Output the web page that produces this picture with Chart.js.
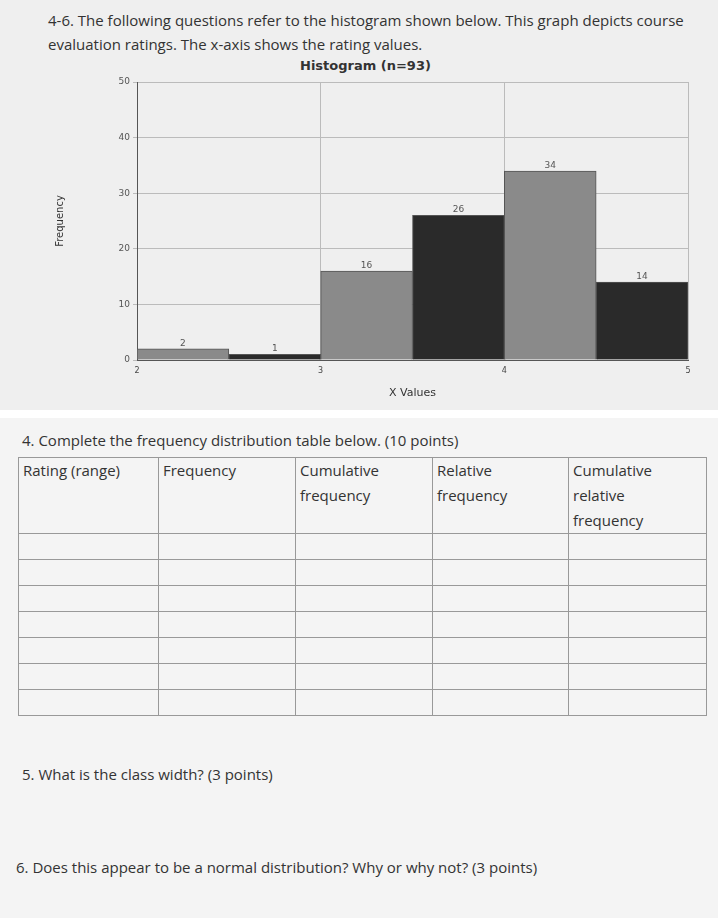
<!DOCTYPE html>
<html>
<head>
<meta charset="utf-8">
<script src="https://cdn.jsdelivr.net/npm/chart.js@4"></script>
<style>
  body { margin: 0; width: 718px; height: 918px; background: #ffffff; font-family: "Open Sans", sans-serif; color: #333; position: relative; overflow: hidden; }
  .top { position: absolute; left: 0; top: 0; width: 718px; height: 410px; background: #efefef; }
  .bottom { position: absolute; left: 0; top: 418px; width: 718px; height: 500px; background: #f4f4f4; }
  .txt { position: absolute; font-size: 15px; line-height: 24px; }
  #wrap { position: absolute; left: 50px; top: 55px; width: 660px; height: 345px; }
  .ctitle { position: absolute; left: 300px; top: 58px; font: bold 13px "DejaVu Sans", sans-serif; color: #333; }
  table { position: absolute; left: 18px; top: 457px; border-collapse: collapse; font-size: 15px; }
  td { border: 1px solid #999; vertical-align: top; padding: 0 4px; height: 25px; line-height: 25px; }
  tr.h td { height: 72px; }
</style>
</head>
<body>
<div class="top"></div>
<div class="bottom"></div>
<div class="txt" style="left:48px;top:8px;">4-6. The following questions refer to the histogram shown below. This graph depicts course<br>evaluation ratings. The x-axis shows the rating values.</div>
<div class="ctitle">Histogram (n=93)</div>
<div id="wrap"><canvas id="chart"></canvas></div>
<div class="txt" style="left:22px;top:428px;">4. Complete the frequency distribution table below. (10 points)</div>
<table>
  <tr class="h"><td style="width:131px">Rating (range)</td><td style="width:128px">Frequency</td><td style="width:128px">Cumulative<br>frequency</td><td style="width:127px">Relative<br>frequency</td><td style="width:129px">Cumulative<br>relative<br>frequency</td></tr>
  <tr><td></td><td></td><td></td><td></td><td></td></tr>
  <tr><td></td><td></td><td></td><td></td><td></td></tr>
  <tr><td></td><td></td><td></td><td></td><td></td></tr>
  <tr><td></td><td></td><td></td><td></td><td></td></tr>
  <tr><td></td><td></td><td></td><td></td><td></td></tr>
  <tr><td></td><td></td><td></td><td></td><td></td></tr>
  <tr><td></td><td></td><td></td><td></td><td></td></tr>
</table>
<div class="txt" style="left:22px;top:762px;">5. What is the class width? (3 points)</div>
<div class="txt" style="left:16px;top:855px;">6. Does this appear to be a normal distribution? Why or why not? (3 points)</div>
<script>
const binCenters = [2.25, 2.75, 3.25, 3.75, 4.25, 4.75];
const frequencies = [2, 1, 16, 26, 34, 14];
const barColors = ["#8a8a8a", "#2a2a2a", "#8a8a8a", "#2a2a2a", "#8a8a8a", "#2a2a2a"];
const xTicks = [2, 3, 4, 5];
const yTicks = [0, 10, 20, 30, 40, 50];

const valueLabels = {
  id: "valueLabels",
  afterDatasetsDraw(chart) {
    const ctx = chart.ctx;
    const meta = chart.getDatasetMeta(0);
    ctx.save();
    ctx.font = "9px 'DejaVu Sans', sans-serif";
    ctx.fillStyle = "#555";
    ctx.textAlign = "center";
    meta.data.forEach((bar, i) => {
      ctx.fillText(String(frequencies[i]), bar.x, bar.y - 3);
    });
    ctx.restore();
  }
};

new Chart(document.getElementById("chart"), {
  type: "bar",
  data: {
    datasets: [{
      data: binCenters.map((x, i) => ({ x: x, y: frequencies[i] })),
      backgroundColor: barColors,
      borderColor: "#555",
      borderWidth: 1,
      barPercentage: 1,
      categoryPercentage: 1
    }]
  },
  options: {
    responsive: true,
    maintainAspectRatio: false,
    animation: false,
    layout: { padding: { top: 27, right: 22 } },
    plugins: { legend: { display: false }, tooltip: { enabled: false } },
    scales: {
      x: {
        type: "linear", min: 2, max: 5, offset: false,
        afterBuildTicks: s => { s.ticks = xTicks.map(v => ({ value: v })); },
        afterFit: s => { s.height = 40; },
        grid: { color: "#bbb", drawTicks: false, offset: false },
        border: { color: "#555" },
        ticks: { font: { size: 8, family: "DejaVu Sans" }, color: "#444", padding: 6 },
        title: { display: true, text: "X Values", font: { size: 11, family: "DejaVu Sans" }, color: "#333", padding: 0 }
      },
      y: {
        min: 0, max: 50,
        afterBuildTicks: s => { s.ticks = yTicks.map(v => ({ value: v })); },
        afterFit: s => { s.width = 87; },
        grid: { color: "#bbb", tickLength: 4 },
        border: { color: "#555" },
        ticks: { font: { size: 9, family: "DejaVu Sans" }, color: "#555" },
        title: { display: true, text: "Frequency", font: { size: 10, family: "DejaVu Sans" }, color: "#333", padding: { bottom: 20 } }
      }
    }
  },
  plugins: [valueLabels]
});
</script>
</body>
</html>
